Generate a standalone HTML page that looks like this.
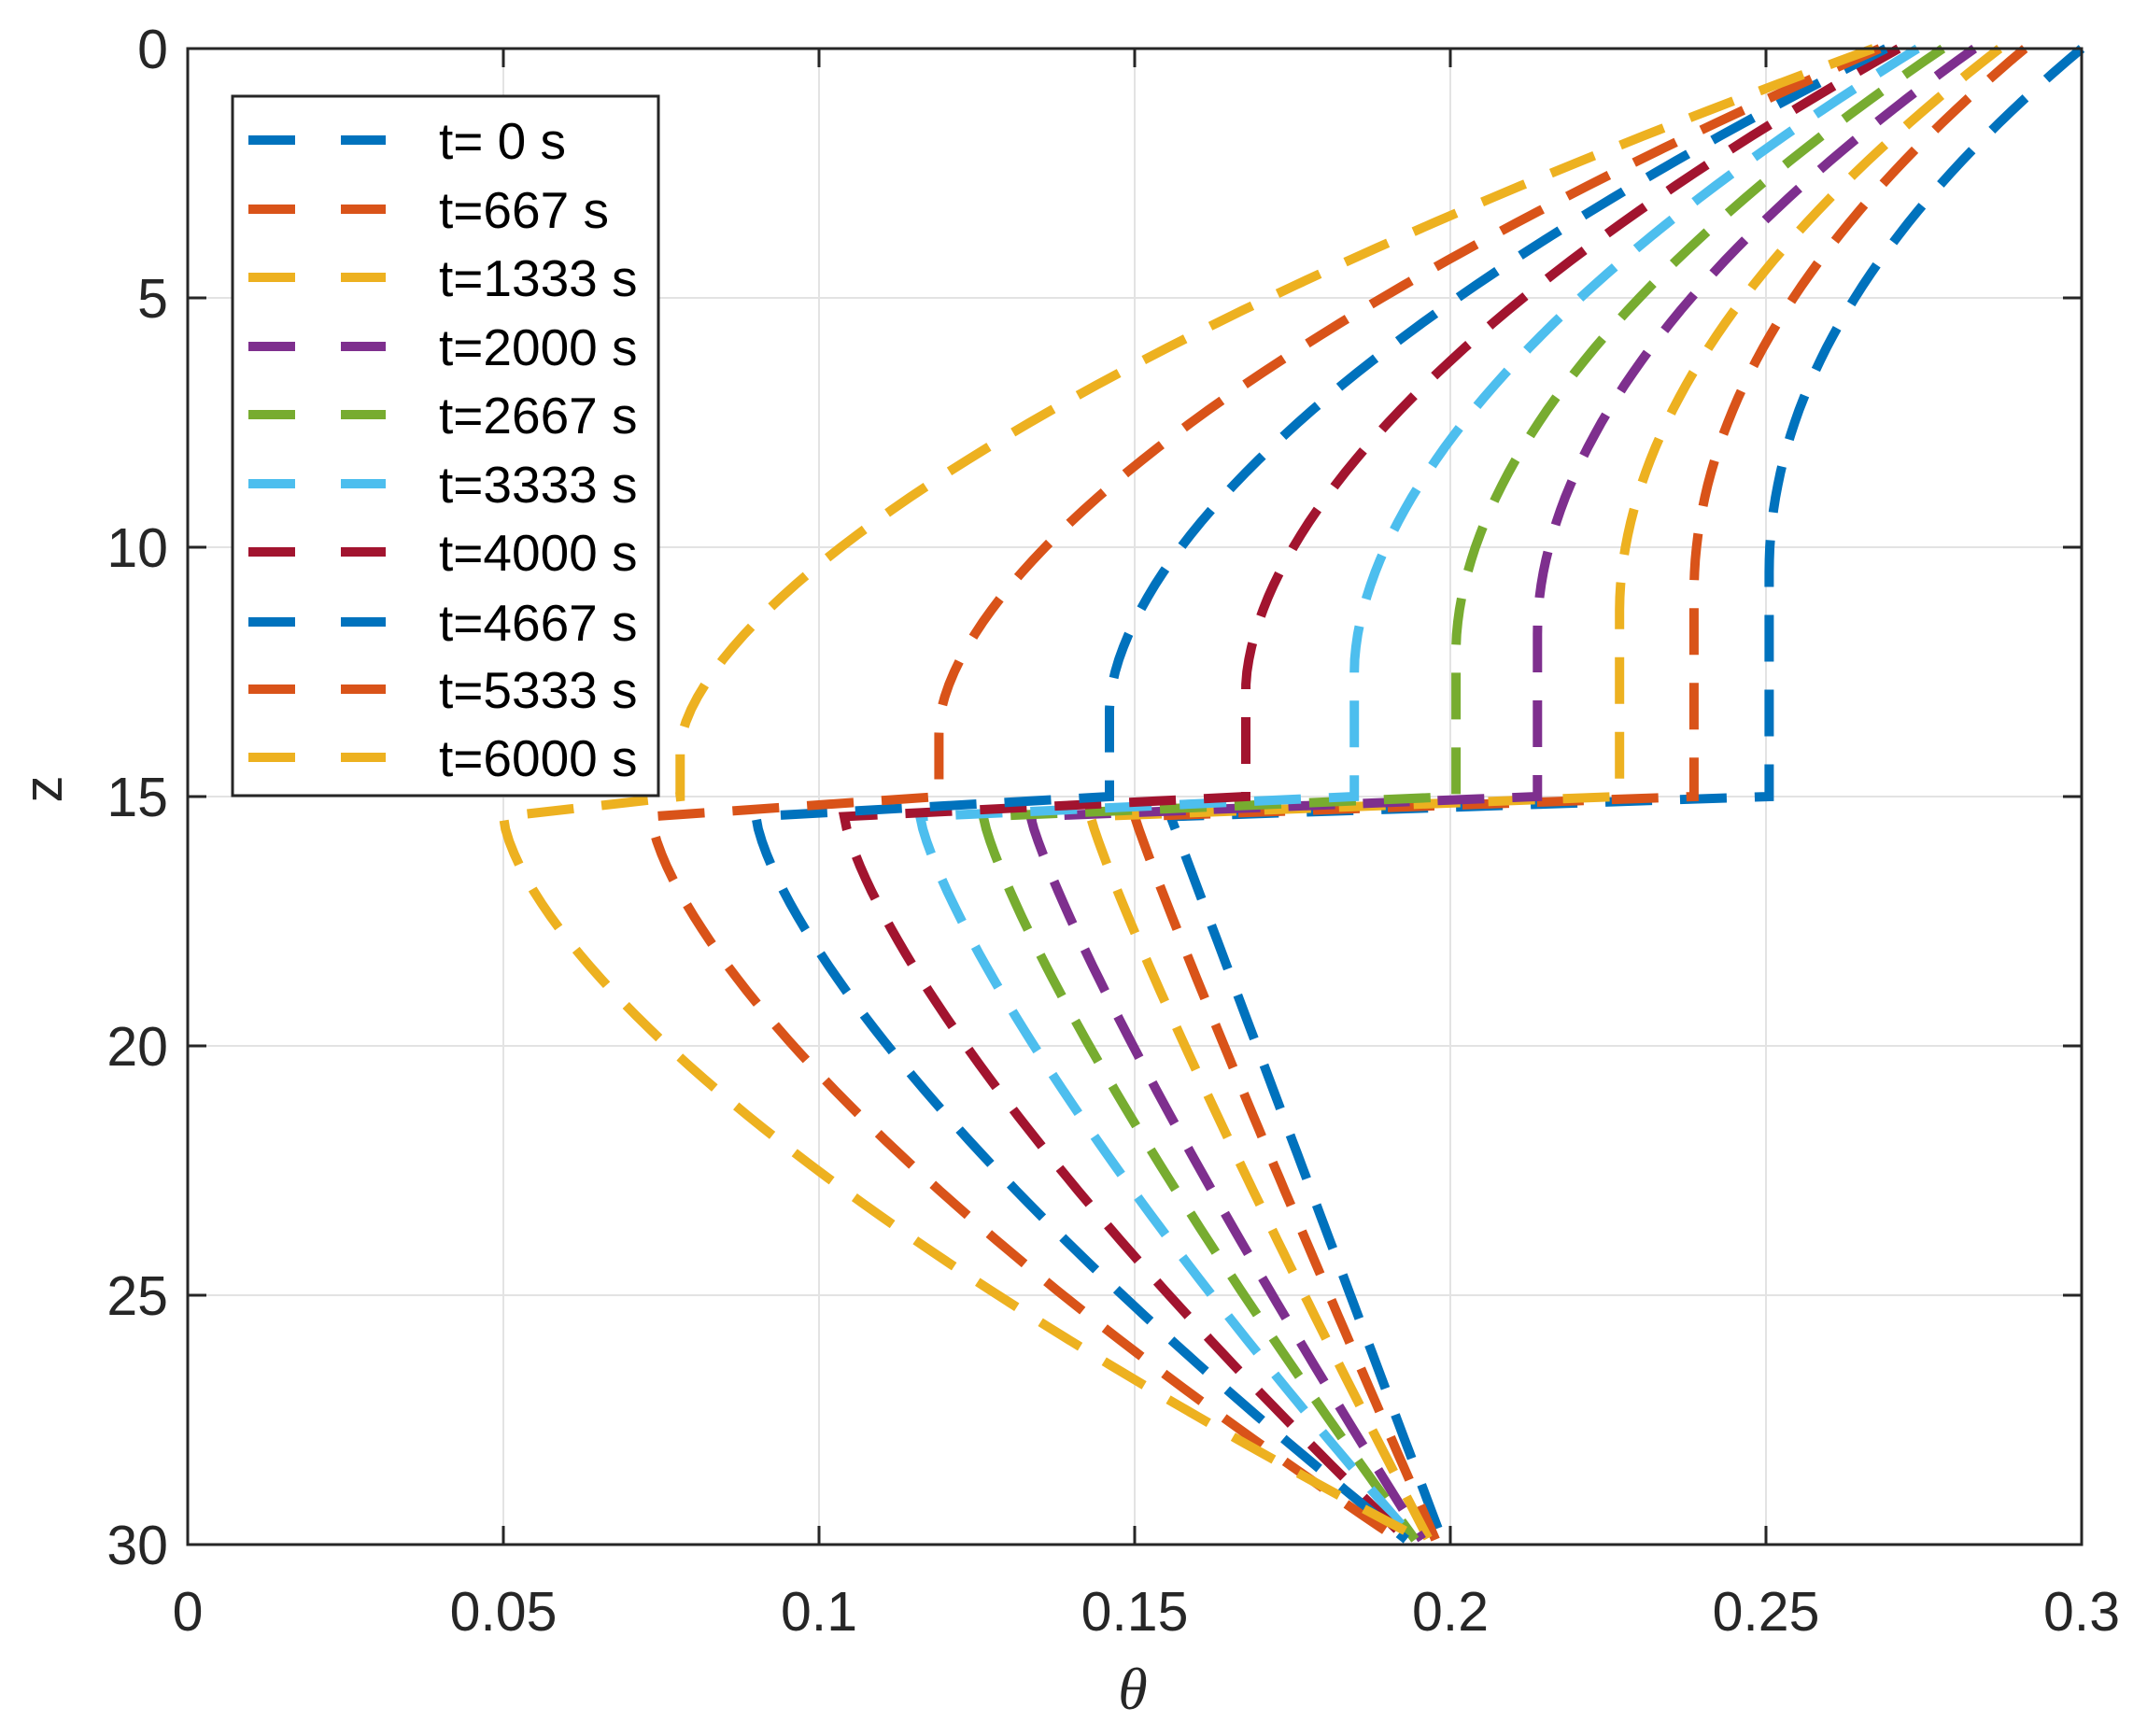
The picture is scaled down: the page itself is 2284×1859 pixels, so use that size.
<!DOCTYPE html>
<html><head><meta charset="utf-8"><style>html,body{margin:0;padding:0;background:#fff}svg{display:block}</style></head>
<body>
<svg id="s" width="2284" height="1859" xmlns="http://www.w3.org/2000/svg" font-family="Liberation Sans, sans-serif">
<rect width="2284" height="1859" fill="#fff"/>
<g id="grid" stroke="#e3e3e3" stroke-width="2"></g>
<g id="curves" fill="none" stroke-width="10" stroke-dasharray="50 30"></g>
<rect x="201" y="52" width="2028" height="1602" fill="none" stroke="#262626" stroke-width="3"/>
<g id="ticks" stroke="#262626" stroke-width="3"></g>
<g id="labels" fill="#262626" font-size="59"></g>
<text x="66" y="845" font-size="58" fill="#262626" transform="rotate(-90 66 845)" text-anchor="middle">z</text>
<text x="1213" y="1830" font-size="64" font-style="italic" font-family="Liberation Serif, serif" fill="#262626" text-anchor="middle">θ</text>
<g id="legend"></g>
</svg>
<script>
const NS="http://www.w3.org/2000/svg";
function el(p,t,a,txt){const e=document.createElementNS(NS,t);for(const k in a)e.setAttribute(k,a[k]);if(txt!==undefined)e.textContent=txt;document.getElementById(p).appendChild(e);return e;}
const X=v=>201+v/0.3*2028, Y=z=>52+z/30*1602;
for(let i=1;i<6;i++){const x=X(i*0.05);el('grid','line',{x1:x,y1:52,x2:x,y2:1654});}
for(let i=1;i<6;i++){const y=Y(i*5);el('grid','line',{x1:201,y1:y,x2:2229,y2:y});}
for(let i=0;i<=6;i++){const x=X(i*0.05);el('ticks','line',{x1:x,y1:1654,x2:x,y2:1634});el('ticks','line',{x1:x,y1:52,x2:x,y2:72});
 el('labels','text',{x:x,y:1746,'text-anchor':'middle'},['0','0.05','0.1','0.15','0.2','0.25','0.3'][i]);}
for(let i=0;i<=6;i++){const y=Y(i*5);el('ticks','line',{x1:201,y1:y,x2:221,y2:y});el('ticks','line',{x1:2229,y1:y,x2:2209,y2:y});
 el('labels','text',{x:180,y:y+21,'text-anchor':'end'},String(i*5));}
const cols=['#0072BD','#D95319','#EDB120','#7E2F8E','#77AC30','#4DBEEE','#A2142F','#0072BD','#D95319','#EDB120'];
const th0=[0.300,0.291,0.287,0.283,0.278,0.274,0.271,0.269,0.268,0.267];
const th15=[0.2505,0.2386,0.2268,0.2138,0.2009,0.1848,0.1676,0.146,0.119,0.078];
const lo=[0.1557,0.150,0.143,0.1335,0.126,0.116,0.104,0.090,0.0734,0.050];
const end=[0.199,0.198,0.197,0.196,0.195,0.195,0.194,0.194,0.193,0.197];
const names=['t= 0 s','t=667 s','t=1333 s','t=2000 s','t=2667 s','t=3333 s','t=4000 s','t=4667 s','t=5333 s','t=6000 s'];
for(let k=0;k<10;k++){
 const f=k/9, zc=10.5+3.5*f, p=2-0.4*f, q=1+0.5*f; let pts=[];
 for(let z=0;z<=15.001;z+=0.25){const s=z<zc?Math.pow(1-z/zc,p):0;pts.push([th15[k]+(th0[k]-th15[k])*s,z]);}
 for(let z=15.4;z<=30.001;z+=0.25){const s=(z-15.4)/14.6;pts.push([lo[k]+(end[k]-lo[k])*Math.pow(s,q),z]);}
 el('curves','polyline',{stroke:cols[k],points:pts.map(a=>X(a[0]).toFixed(1)+','+Y(a[1]).toFixed(1)).join(' ')});
}
el('legend','rect',{x:249,y:103,width:456,height:749,fill:'#fff',stroke:'#262626','stroke-width':3});
const ry=[150,224,297,371,444,518,591,666,738,811];
for(let k=0;k<10;k++){
 el('legend','line',{x1:266,x2:316,y1:ry[k],y2:ry[k],stroke:cols[k],'stroke-width':10});
 el('legend','line',{x1:365,x2:413,y1:ry[k],y2:ry[k],stroke:cols[k],'stroke-width':10});
 el('legend','text',{x:470,y:ry[k]+20,'font-size':55,fill:'#000'},names[k]);
}
</script>
</body></html>
